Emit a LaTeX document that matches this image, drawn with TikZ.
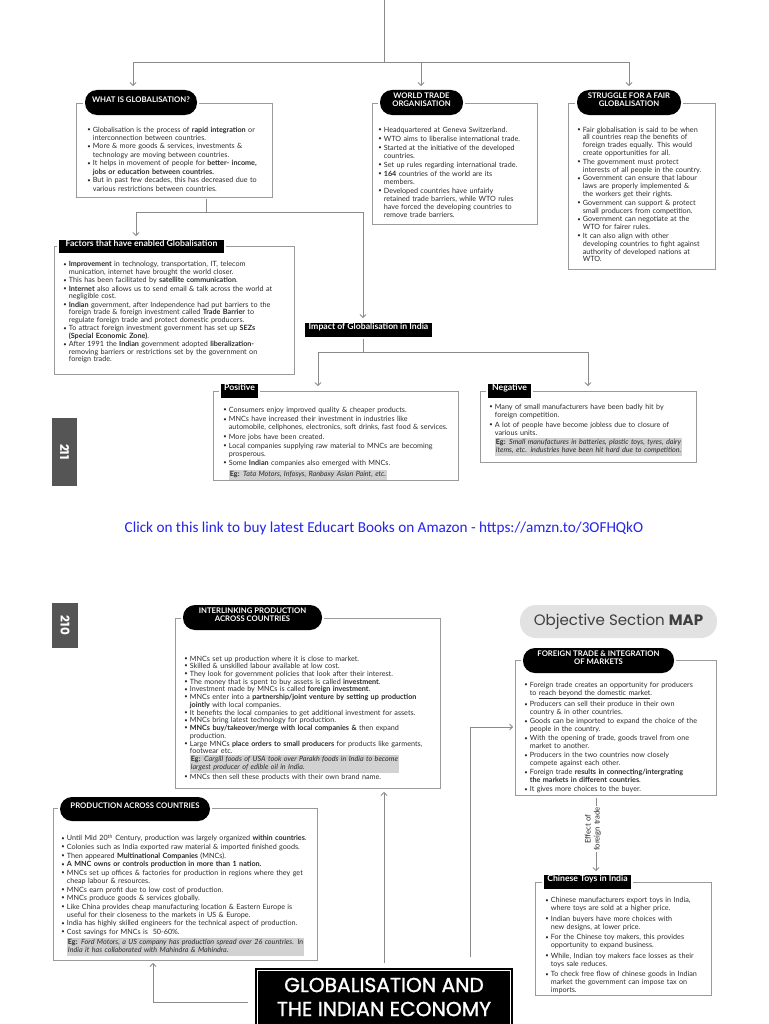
\documentclass[tikz,border=0pt]{standalone}
\usepackage{fontspec}
\setmainfont{Lato}
\newfontfamily\popp{Poppins}
\newfontfamily\poppb[FakeBold=1.3]{Poppins}
\newfontfamily\calib{Carlito}
\usetikzlibrary{arrows.meta,fit}
\definecolor{bx}{HTML}{9A9A9A}
\definecolor{ln}{HTML}{8A8A8A}
\definecolor{txt}{HTML}{2A2A2A}
\definecolor{hl}{HTML}{D2D2D2}
\definecolor{lbl}{HTML}{555555}
\definecolor{obj}{HTML}{E2E2E2}
\definecolor{lnk}{HTML}{2424F0}
\newcommand{\itm}{\par\leftskip=4.2pt\noindent\llap{\makebox[4.2pt][l]{\raisebox{0.6pt}{\fontsize{4.4}{4}\selectfont\textbullet}}}}
\newcommand{\nl}{\newline}
\newcommand{\lset}[2]{\fontsize{5.4pt}{#1pt}\selectfont\setlength{\parskip}{#2pt}}
\newcommand{\egbox}[1]{\par\noindent{\setlength{\fboxsep}{0.8pt}\colorbox{hl}{\begin{tabular}{@{}l@{}}#1\end{tabular}}}}
\begin{document}
\begin{tikzpicture}[x=0.75pt,y=-0.75pt,
  box/.style={draw=bx, line width=0.6pt, inner sep=0pt},
  pill/.style={fill=black, rounded corners=9pt, text=white, inner sep=0pt, align=center,
     font=\bfseries\fontsize{5.8}{6.6}\selectfont, preaction={draw=white, line width=3pt}},
  hdr/.style={fill=black, text=white, inner sep=0pt, font=\bfseries\fontsize{6.5}{7}\selectfont,
     preaction={draw=white, line width=3pt}},
  lst/.style={anchor=north west, inner sep=0pt, align=left, text=txt},
  conn/.style={draw=ln, line width=0.6pt},
  arr/.style={draw=ln, line width=0.6pt, -{Straight Barb[length=2.2pt,width=4.6pt]}},
  side/.style={fill=lbl, text=white, inner sep=0pt}]
\useasboundingbox (0,0) rectangle (768,1024);
\fill[white] (0,0) rectangle (768,1024);

% ---------- top connectors ----------
\coordinate (t0) at (384,0);
\coordinate (t1) at (384,62);
\coordinate (tL) at (133,62);
\coordinate (tM) at (421,62);
\coordinate (tR) at (629,62);
\coordinate (aL) at (133,86);
\coordinate (aM) at (421,86);
\coordinate (aR) at (629,86);
\draw[conn] (t0) -- (t1);
\draw[conn] (tL) -- (tR);
\draw[arr] (tL) -- (aL);
\draw[arr] (tM) -- (aM);
\draw[arr] (tR) -- (aR);

% ---------- boxes (top) ----------
\node[box, fit={(76,103)(272,197)}] (b1) {};
\node[box, fit={(372,103)(537,224)}] (b2) {};
\node[box, fit={(568,103)(715,269)}] (b3) {};
\node[box, fit={(54,246)(294,374)}] (b4) {};
\node[box, fit={(213,391)(458,480)}] (b5) {};
\node[box, fit={(480,391)(696,462)}] (b6) {};

% connectors from What is
\coordinate (w0) at (206,199);
\coordinate (w1) at (206,212);
\coordinate (wL) at (136,212);
\coordinate (wR) at (363,212);
\coordinate (wLa) at (136,236);
\coordinate (wRa) at (363,318);
\draw[conn] (w0) -- (w1);
\draw[conn] (wL) -- (wR);
\draw[arr] (wL) -- (wLa);
\draw[arr] (wR) -- (wRa);

% impact connectors
\coordinate (i0) at (363,339);
\coordinate (i1) at (363,352);
\coordinate (iL) at (318,352);
\coordinate (iR) at (588,352);
\coordinate (iLa) at (318,386);
\coordinate (iRa) at (588,386);
\draw[conn] (i0) -- (i1);
\draw[conn] (iL) -- (iR);
\draw[arr] (iL) -- (iLa);
\draw[arr] (iR) -- (iRa);

% ---------- headers (top) ----------
\node[pill, fit={(85,90)(197,115)}] (h1) {WHAT IS GLOBALISATION?};
\node[pill, fit={(380,90)(463,115)}] (h2) {WORLD TRADE\\ORGANISATION};
\node[pill, fit={(577,90)(681,115)}] (h3) {STRUGGLE FOR A FAIR\\GLOBALISATION};
\node[hdr, fit={(59,240)(224,253)}] (h4) {Factors that have enabled Globalisation};
\node[hdr, fit={(305,323)(432,337)}] (h7) {Impact of Globalisation in India};
\node[hdr, fit={(221,384)(258,398)}] (h5) {Positive};
\node[hdr, fit={(488,384)(531,398)}] (h6) {Negative};

% ---------- lists (top) ----------
\node[lst, text width=145pt, font={\lset{6.15}{0.4}}] (l1) at (87,123) {%
\itm Globalisation is the process of \textbf{rapid integration} or\nl interconnection between countries.
\itm More \& more goods \& services, investments \&\nl technology are moving between countries.
\itm It helps in movement of people for \textbf{better- income,}\nl \textbf{jobs or education between countries.}
\itm But in past few decades, this has decreased due to\nl various restrictions between countries.\par};

\node[lst, text width=125pt, font={\lset{6.0}{0.75}}] (l2) at (378,123) {%
\itm Headquartered at Geneva Switzerland.
\itm WTO aims to liberalise international trade.
\itm Started at the initiative of the developed\nl countries.
\itm Set up rules regarding international trade.
\itm \textbf{164} countries of the world are its\nl members.
\itm Developed countries have unfairly\nl retained trade barriers, while WTO rules\nl have forced the developing countries to\nl remove trade barriers.\par};

\node[lst, text width=112pt, font={\lset{5.85}{0.75}}] (l3) at (577,123) {%
\itm Fair globalisation is said to be when\nl all countries reap the benefits of\nl foreign trades equally. This would\nl create opportunities for all.
\itm The government must protect\nl interests of all people in the country.
\itm Government can ensure that labour\nl laws are properly implemented \&\nl the workers get their rights.
\itm Government can support \& protect\nl small producers from competition.
\itm Government can negotiate at the\nl WTO for fairer rules.
\itm It can also align with other\nl developing countries to fight against\nl authority of developed nations at\nl WTO.\par};

\node[lst, text width=185pt, font={\lset{5.55}{0.9}}] (l4) at (63,258) {%
\itm \textbf{Improvement} in technology, transportation, IT, telecom\nl munication, internet have brought the world closer.
\itm This has been facilitated by \textbf{satellite communication}.
\itm \textbf{Internet} also allows us to send email \& talk across the world at\nl negligible cost.
\itm \textbf{Indian} government, after Independence had put barriers to the\nl foreign trade \& foreign investment called \textbf{Trade Barrier} to\nl regulate foreign trade and protect domestic producers.
\itm To attract foreign investment government has set up \textbf{SEZs}\nl \textbf{(Special Economic Zone)}.
\itm After 1991 the \textbf{Indian} government adopted \textbf{liberalization-}\nl removing barriers or restrictions set by the government on\nl foreign trade.\par};

\node[lst, text width=190pt, font={\lset{6.0}{0.95}}] (l5) at (223,403) {%
\itm Consumers enjoy improved quality \& cheaper products.
\itm MNCs have increased their investment in industries like\nl automobile, cellphones, electronics, soft drinks, fast food \& services.
\itm More jobs have been created.
\itm Local companies supplying raw material to MNCs are becoming\nl prosperous.
\itm Some \textbf{Indian} companies also emerged with MNCs.
\egbox{\textbf{Eg:} \textit{Tata Motors, Infosys, Ranbaxy Asian Paint, etc.}}\par};

\node[lst, text width=165pt, font={\lset{6.2}{0.75}}] (l6) at (489,400) {%
\itm Many of small manufacturers have been badly hit by\nl foreign competition.
\itm A lot of people have become jobless due to closure of\nl various units.
\egbox{\textbf{Eg:} \textit{Small manufactures in batteries, plastic toys, tyres, dairy}\\ \textit{items, etc. industries have been hit hard due to competition.}}\par};

% ---------- side labels & link ----------
\node[side, fit={(52,418)(77,486)}] (s211) {};
\node[rotate=-90, text=white, font=\popp\bfseries\fontsize{9}{10}\selectfont] (s211t) at (s211.center) {211};
\node[side, fit={(52,603)(78,648)}] (s210) {};
\node[rotate=-90, text=white, font=\popp\bfseries\fontsize{9}{10}\selectfont] (s210t) at (s210.center) {210};

\node[text=lnk, font=\calib\fontsize{11.4}{13}\selectfont] (link) at (384,528) {Click on this link to buy latest Educart Books on Amazon - https://amzn.to/3OFHQkO};

% ---------- bottom boxes ----------
\node[box, fit={(175,618)(440,788)}] (b7) {};
\node[box, fit={(515,660)(716,795)}] (b8) {};
\node[box, fit={(53,808)(317,960)}] (b9) {};
\node[box, fit={(535,882)(711,995)}] (b10) {};

\node[fill=obj, rounded corners=12pt, inner sep=0pt, fit={(520,605)(717,638)}] (obj) {};
\node[text=txt!90, font=\popp\fontsize{11.3}{13}\selectfont] (objt) at (obj.center) {Objective Section \textbf{MAP}};

% bottom connectors
\coordinate (v0) at (470,957);
\coordinate (v1) at (470,727);
\coordinate (v1a) at (513,727);
\draw[conn] (v0) -- (v1);
\draw[arr] (v1) -- (v1a);
\coordinate (u0) at (384,963);
\coordinate (u1) at (384,792);
\draw[arr] (u0) -- (u1);
\coordinate (p0) at (248,1002);
\coordinate (p1) at (153,1002);
\coordinate (p2) at (153,963);
\draw[conn] (p0) -- (p1);
\draw[arr] (p1) -- (p2);
\coordinate (f0) at (596,798);
\coordinate (f1) at (596,871);
\draw[arr] (f0) -- (f1);
\node[fill=white, inner sep=1pt, rotate=90, align=center, text=txt, font=\fontsize{5.8}{6.6}\selectfont] (eff) at (593,829) {Effect of\\foreign trade};

% bottom headers
\node[pill, fit={(183,605)(322,630)}] (h8) {INTERLINKING PRODUCTION\\ACROSS COUNTRIES};
\node[pill, fit={(523,648)(674,673)}] (h9) {FOREIGN TRADE \& INTEGRATION\\OF MARKETS};
\node[pill, fit={(60,797)(210,821)}] (h10) {PRODUCTION ACROSS COUNTRIES};
\node[hdr, fit={(544,875)(631,889)}] (h11) {Chinese Toys in India};

% bottom lists
\node[lst, text width=205pt, font={\lset{5.8}{0}}] (l7) at (184,653) {%
\itm MNCs set up production where it is close to market.
\itm Skilled \& unskilled labour available at low cost.
\itm They look for government policies that look after their interest.
\itm The money that is spent to buy assets is called \textbf{investment}.
\itm Investment made by MNCs is called \textbf{foreign investment}.
\itm MNCs enter into a \textbf{partnership/joint venture by setting up production}\nl \textbf{jointly} with local companies.
\itm It benefits the local companies to get additional investment for assets.
\itm MNCs bring latest technology for production.
\itm \textbf{MNCs buy/takeover/merge with local companies \&} then expand\nl production.
\itm Large MNCs \textbf{place orders to small producers} for products like garments,\nl footwear etc.
\egbox{\textbf{Eg:} \textit{Cargill foods of USA took over Parakh foods in India to become}\\ \textit{largest producer of edible oil in India.}}
\itm MNCs then sell these products with their own brand name.\par};

\node[lst, text width=155pt, font={\lset{6.0}{0.75}}] (l8) at (524,678) {%
\itm Foreign trade creates an opportunity for producers\nl to \underline{reach beyond the domestic market}.
\itm Producers can sell their produce in their own\nl country \& in other countries.
\itm Goods can be imported to expand the choice of the\nl people in the country.
\itm With the opening of trade, goods travel from one\nl market to another.
\itm Producers in the two countries now closely\nl compete against each other.
\itm Foreign trade \textbf{results in connecting/intergrating}\nl \textbf{the markets in different countries}.
\itm It gives more choices to the buyer.\par};

\node[lst, text width=205pt, font={\lset{5.85}{0.65}}] (l9) at (61,832) {%
\itm Until Mid 20\textsuperscript{th} Century, production was largely organized \textbf{within countries}.
\itm Colonies such as India exported raw material \& imported finished goods.
\itm Then appeared \textbf{Multinational Companies} (MNCs).
\itm \textbf{A MNC owns or controls production in more than 1 nation.}
\itm MNCs set up offices \& factories for production in regions where they get\nl cheap labour \& resources.
\itm MNCs earn profit due to low cost of production.
\itm MNCs produce goods \& services globally.
\itm Like China provides cheap manufacturing location \& Eastern Europe is\nl useful for their closeness to the markets in US \& Europe.
\itm India has highly skilled engineers for the technical aspect of production.
\itm Cost savings for MNCs is~ 50-60\%.
\egbox{\textbf{Eg:} \textit{Ford Motors, a US company has production spread over 26 countries. In}\\ \textit{India it has collaborated with Mahindra \& Mahindra.}}\par};

\node[lst, text width=135pt, font={\lset{6.0}{1.9}}] (l10) at (545,892) {%
\itm Chinese manufacturers export toys in India,\nl where toys are sold at a higher price.
\itm Indian buyers have more choices with\nl new designs, at lower price.
\itm For the Chinese toy makers, this provides\nl opportunity to expand business.
\itm While, Indian toy makers face losses as their\nl toys sale reduces.
\itm To check free flow of chinese goods in Indian\nl market the government can impose tax on\nl imports.\par};

% ---------- title ----------
\node[fill=black, inner sep=0pt, fit={(255,968)(513,1032)}] (ttl) {};
\draw[white, line width=0.5pt] ([shift={(3,3)}]ttl.north west) rectangle ([shift={(-3,-3)}]ttl.south east);
\node[text=white, align=center, font=\poppb\fontsize{15.2}{18}\selectfont] (ttlt) at (384,997) {GLOBALISATION AND\\THE INDIAN ECONOMY};
\end{tikzpicture}
\end{document}
